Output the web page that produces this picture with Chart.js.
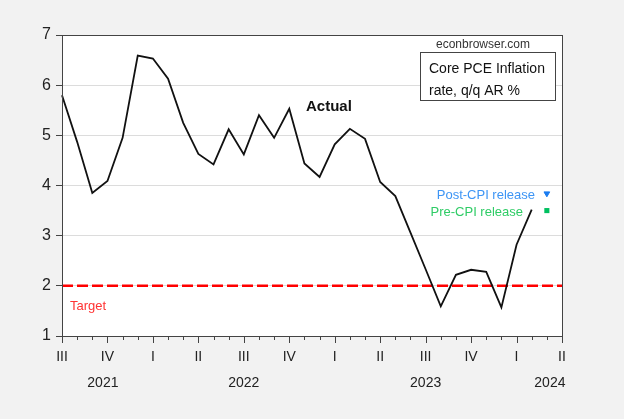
<!DOCTYPE html>
<html>
<head>
<meta charset="utf-8">
<script src="https://cdn.jsdelivr.net/npm/chart.js@4.4.1/dist/chart.umd.min.js"></script>
<style>
  html, body { margin: 0; padding: 0; background: #f2f2f2; }
  #wrap { width: 624px; height: 419px; }
</style>
</head>
<body>
<div id="wrap"><canvas id="chart" width="624" height="419"></canvas></div>
<script>
// --- Data ---
const months = [
  '2021-07', '2021-08', '2021-09', '2021-10', '2021-11', '2021-12',
  '2022-01', '2022-02', '2022-03', '2022-04', '2022-05', '2022-06',
  '2022-07', '2022-08', '2022-09', '2022-10', '2022-11', '2022-12',
  '2023-01', '2023-02', '2023-03', '2023-04', '2023-05', '2023-06',
  '2023-07', '2023-08', '2023-09', '2023-10', '2023-11', '2023-12',
  '2024-01', '2024-02', '2024-03', '2024-04'
];
const actual = [
  5.80, 4.87, 3.85, 4.09, 4.95, 6.59,
  6.53, 6.13, 5.25, 4.63, 4.42, 5.12,
  4.62, 5.40, 4.95, 5.53, 4.44, 4.17,
  4.82, 5.13, 4.93, 4.07, 3.79, 3.06,
  2.33, 1.59, 2.22, 2.32, 2.28, 1.57,
  2.82, 3.52
];
const postCpiMonth = '2024-03';
const postCpi = 3.84;
const preCpiMonth = '2024-03';
const preCpi = 3.50;
const target = 2;
const quarterNames = ['I', 'II', 'III', 'IV'];
const yearNames = ['2021', '2022', '2023', '2024'];

const FONT = '"Liberation Sans", Arial, sans-serif';

const single = (month, v) => months.map(m => (m === month ? v : null));

// --- Decoration plugin: background, frame, ticks, notes ---
const decor = {
  id: 'decor',
  beforeDraw(chart) {
    const { ctx, chartArea: a } = chart;
    ctx.save();
    ctx.fillStyle = '#f2f2f2';
    ctx.fillRect(0, 0, chart.width, chart.height);
    ctx.fillStyle = '#ffffff';
    ctx.fillRect(a.left, a.top, a.right - a.left, a.bottom - a.top);
    ctx.restore();
  },
  afterDraw(chart) {
    const { ctx, chartArea: a } = chart;
    const xs = chart.scales.x;
    ctx.save();

    // frame
    ctx.strokeStyle = '#444';
    ctx.lineWidth = 1;
    ctx.strokeRect(Math.round(a.left) + 0.5, Math.round(a.top) + 0.5,
      Math.round(a.right - a.left), Math.round(a.bottom - a.top));

    // month ticks, longer at quarters
    ctx.beginPath();
    months.forEach((m, i) => {
      const x = Math.round(xs.getPixelForValue(i)) + 0.5;
      const mon = parseInt(m.slice(5), 10);
      const len = (mon - 1) % 3 === 0 ? 7 : 4;
      ctx.moveTo(x, a.bottom);
      ctx.lineTo(x, a.bottom + len);
    });
    ctx.stroke();

    // year row
    ctx.fillStyle = '#222';
    ctx.font = '14px ' + FONT;
    ctx.textAlign = 'center';
    ctx.textBaseline = 'alphabetic';
    const yearPos = [2.7, 12, 24, 32.2];
    yearNames.forEach((y, i) => {
      ctx.fillText(y, xs.getPixelForValue(yearPos[i]), 387);
    });

    // notes
    ctx.textAlign = 'left';
    ctx.font = 'bold 15px ' + FONT;
    ctx.fillStyle = '#111';
    ctx.fillText('Actual', 306, 111);

    ctx.font = '13px ' + FONT;
    ctx.fillStyle = '#ff3333';
    ctx.fillText('Target', 70, 310);

    ctx.textAlign = 'right';
    ctx.fillStyle = '#3d95f5';
    ctx.fillText('Post-CPI release', 535, 199);
    ctx.fillStyle = '#2fcc66';
    ctx.fillText('Pre-CPI release', 523, 216);

    ctx.textAlign = 'center';
    ctx.font = '12px ' + FONT;
    ctx.fillStyle = '#333';
    ctx.fillText('econbrowser.com', 483, 48);

    ctx.fillStyle = '#fff';
    ctx.fillRect(420.5, 52.5, 135, 48);
    ctx.strokeStyle = '#444';
    ctx.strokeRect(420.5, 52.5, 135, 48);
    ctx.textAlign = 'left';
    ctx.font = '14px ' + FONT;
    ctx.fillStyle = '#111';
    ctx.fillText('Core PCE Inflation', 429, 72.5);
    ctx.fillText('rate, q/q AR %', 429, 95);

    ctx.restore();
  }
};

new Chart(document.getElementById('chart'), {
  type: 'line',
  data: {
    labels: months,
    datasets: [
      {
        label: 'Target',
        data: months.map(() => target),
        borderColor: '#ff0000',
        borderWidth: 2.5,
        borderDash: [11, 4],
        pointRadius: 0,
        order: 3
      },
      {
        label: 'Actual',
        data: actual,
        borderColor: '#111111',
        borderWidth: 1.8,
        pointRadius: 0,
        tension: 0,
        order: 1
      },
      {
        label: 'Post-CPI release',
        data: single(postCpiMonth, postCpi),
        showLine: false,
        pointStyle: 'triangle',
        rotation: 180,
        pointRadius: 3.3,
        backgroundColor: '#1a7cf0',
        borderColor: '#1a7cf0',
        borderWidth: 1,
        order: 0
      },
      {
        label: 'Pre-CPI release',
        data: single(preCpiMonth, preCpi),
        showLine: false,
        pointStyle: 'rect',
        pointRadius: 3.6,
        backgroundColor: '#00c060',
        borderColor: '#00c060',
        borderWidth: 0,
        order: 0
      }
    ]
  },
  options: {
    responsive: false,
    animation: false,
    events: [],
    layout: { padding: { top: 35, right: 62, left: 0, bottom: 0 } },
    plugins: {
      legend: { display: false },
      tooltip: { enabled: false }
    },
    scales: {
      x: {
        type: 'category',
        offset: false,
        grid: { display: false, drawTicks: false },
        border: { display: true, color: '#444' },
        ticks: {
          autoSkip: false,
          maxRotation: 0,
          padding: 13,
          color: '#222',
          font: { family: FONT, size: 14 },
          callback: (v, i) => {
            const mon = parseInt(months[i].slice(5), 10);
            return (mon - 1) % 3 === 0 ? quarterNames[(mon - 1) / 3] : '';
          }
        },
        afterFit: s => { s.height = 83; }
      },
      y: {
        min: 1,
        max: 7,
        grid: {
          color: '#dcdcdc',
          tickColor: '#444',
          tickLength: 6
        },
        border: { display: true, color: '#444' },
        ticks: {
          stepSize: 1,
          padding: 5,
          color: '#222',
          font: { family: FONT, size: 16 }
        },
        afterFit: s => { s.width = 62; }
      }
    }
  },
  plugins: [decor]
});
</script>
</body>
</html>
